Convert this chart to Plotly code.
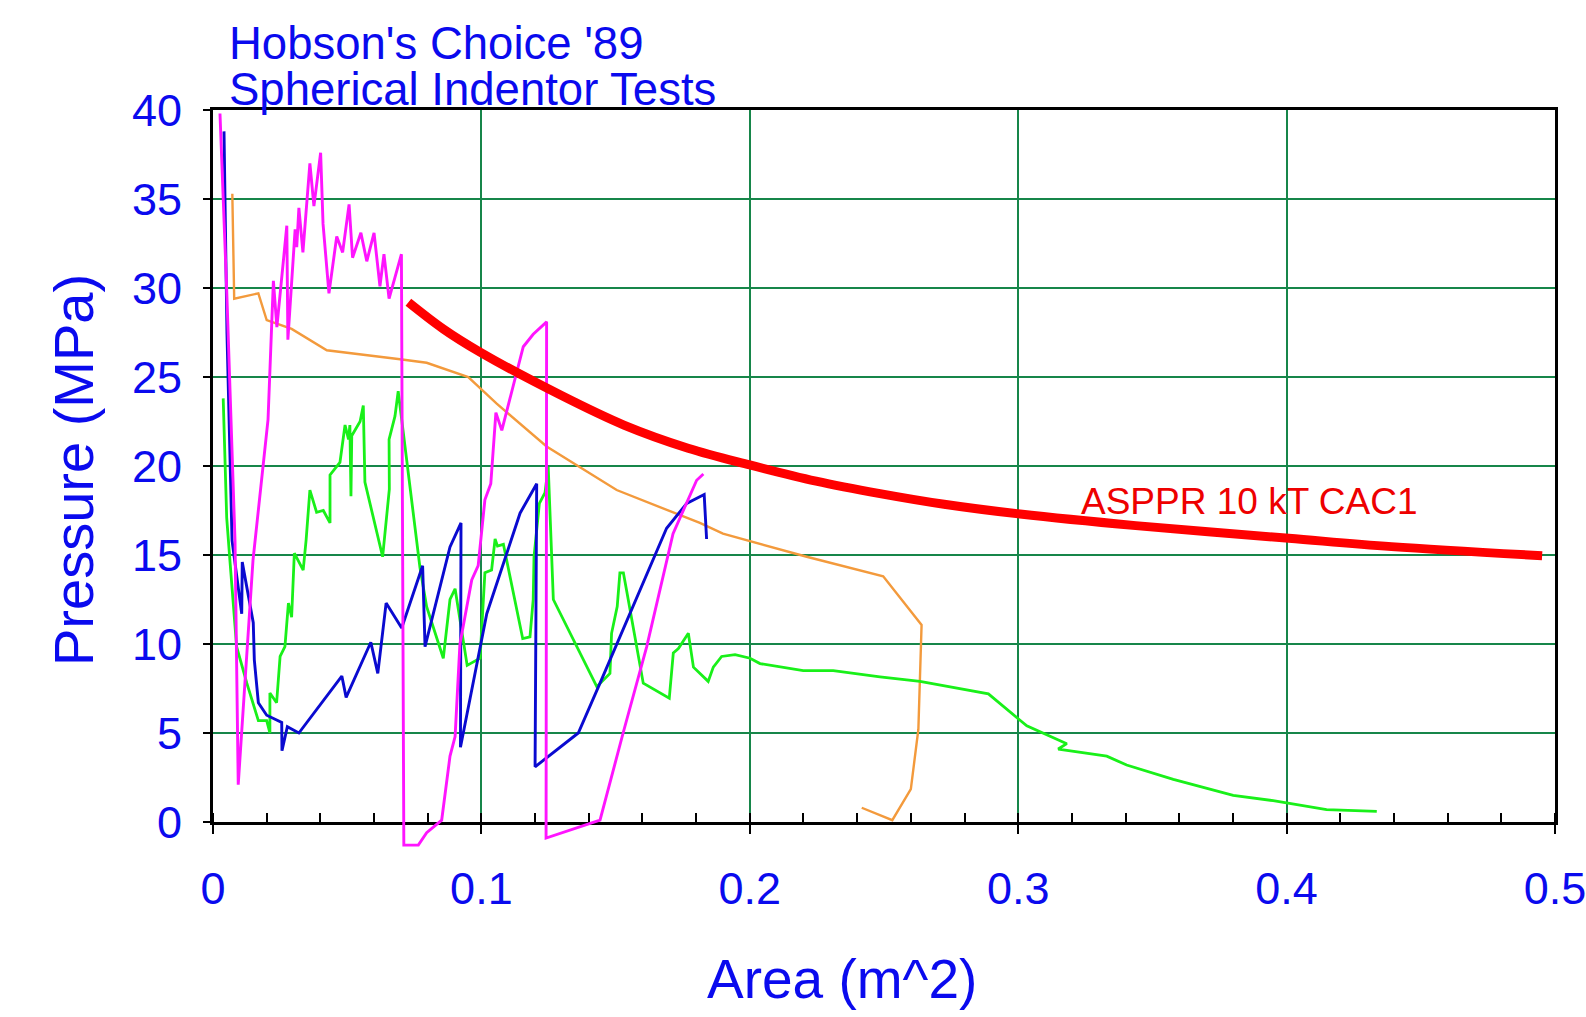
import plotly.graph_objects as go

# ---------------- data ----------------
magenta_x = [0.0026, 0.0051, 0.0082, 0.0094, 0.0149, 0.0205, 0.0225, 0.0238, 0.0275, 0.0279,
             0.0306, 0.0312, 0.0320, 0.0335, 0.0361, 0.0376, 0.0401, 0.0410, 0.0432, 0.0461,
             0.0483, 0.0507, 0.0520, 0.0551, 0.0573, 0.0600, 0.0622, 0.0637, 0.0656, 0.0702,
             0.0711, 0.0765, 0.0796, 0.0852, 0.0883, 0.0902, 0.0920, 0.0964, 0.0988, 0.1013,
             0.1035, 0.1054, 0.1076, 0.1156, 0.1193, 0.1243, 0.1241, 0.1442, 0.1528, 0.1616,
             0.1714, 0.1802, 0.1827]
magenta_y = [39.8, 29.9, 15.8, 2.1, 14.7, 22.6, 30.4, 27.8, 33.5, 27.1,
             33.3, 32.3, 34.5, 32.0, 37.0, 34.6, 37.6, 33.6, 29.7, 32.9,
             32.0, 34.7, 31.7, 33.1, 31.5, 33.1, 30.1, 31.9, 29.4, 31.9,
             -1.3, -1.3, -0.6, 0.1, 3.7, 4.8, 10.0, 13.6, 14.4, 18.1,
             19.0, 23.0, 22.0, 26.7, 27.4, 28.1, -0.9, 0.1, 5.0, 9.85,
             16.2, 19.2, 19.55]

blue_x = [0.0041, 0.0052, 0.0071, 0.0101, 0.0107, 0.0109, 0.0150, 0.0154, 0.0169, 0.0200,
          0.0256, 0.0257, 0.0277, 0.0320, 0.0480, 0.0496, 0.0588, 0.0614, 0.0645, 0.0703,
          0.0781, 0.0790, 0.0883, 0.0924, 0.0922, 0.1020, 0.1144, 0.1206, 0.1200, 0.1361,
          0.1442, 0.1690, 0.1765, 0.1830, 0.1839]
blue_y = [38.8, 27.5, 15.8, 12.6, 11.7, 14.6, 11.2, 9.1, 6.7, 6.0,
          5.6, 4.0, 5.35, 5.0, 8.2, 7.0, 10.1, 8.35, 12.3, 10.9,
          14.4, 9.85, 15.45, 16.8, 4.2, 11.7, 17.35, 19.0, 3.1, 5.0,
          7.8, 16.5, 17.9, 18.4, 15.9]

orange_x = [0.0072, 0.0079, 0.0169, 0.0200, 0.0293, 0.0424, 0.0697, 0.0796, 0.0951, 0.1057,
            0.1243, 0.1442, 0.1504, 0.1814, 0.1900, 0.2212, 0.2497, 0.2640, 0.2628, 0.2600,
            0.2531, 0.2417]
orange_y = [35.3, 29.4, 29.7, 28.2, 27.7, 26.5, 26.0, 25.8, 25.0, 23.5,
            21.1, 19.2, 18.65, 16.8, 16.2, 14.9, 13.8, 11.07, 5.2, 1.85,
            0.1, 0.8]

green_x = [0.0038, 0.0051, 0.0063, 0.0088, 0.0126, 0.0169, 0.0200, 0.0212, 0.0212, 0.0237,
           0.0250, 0.0268, 0.0281, 0.0293, 0.0303, 0.0336, 0.0347, 0.0361, 0.0386, 0.0411,
           0.0436, 0.0436, 0.0473, 0.0492, 0.0505, 0.0510, 0.0514, 0.0517, 0.0548, 0.0560,
           0.0566, 0.0632, 0.0657, 0.0656, 0.0678, 0.0690, 0.0771, 0.0796, 0.0858, 0.0883,
           0.0902, 0.0947, 0.0995, 0.1013, 0.1038, 0.1051, 0.1060, 0.1082, 0.1154, 0.1181,
           0.1193, 0.1196, 0.1216, 0.1237, 0.1249, 0.1268, 0.1430, 0.1479, 0.1485, 0.1506,
           0.1516, 0.1529, 0.1541, 0.1603, 0.1700, 0.1715, 0.1734, 0.1771, 0.1790, 0.1845,
           0.1864, 0.1895, 0.1945, 0.2001, 0.2038, 0.2199, 0.2311, 0.2485, 0.2634, 0.2783,
           0.2889, 0.3000, 0.3032, 0.3181, 0.3149, 0.3330, 0.3404, 0.3578, 0.3702, 0.3801,
           0.3950, 0.4025, 0.4149, 0.4336]
green_y = [23.8, 17.1, 14.7, 9.85, 7.8, 5.7, 5.7, 5.0, 7.25, 6.7,
           9.3, 9.85, 12.3, 11.5, 15.1, 14.15, 15.85, 18.65, 17.4, 17.5,
           16.8, 19.5, 20.2, 22.3, 21.5, 22.3, 18.3, 21.7, 22.5, 23.4,
           19.1, 14.9, 18.7, 21.5, 22.8, 24.2, 14.3, 12.1, 9.2, 12.5,
           13.1, 8.8, 9.2, 14.0, 14.15, 15.9, 15.5, 15.6, 10.3, 10.4,
           12.5, 14.9, 17.9, 18.5, 19.95, 12.5, 7.6, 8.35, 10.6, 12.1,
           14.0, 14.0, 13.0, 7.8, 6.95, 9.5, 9.75, 10.6, 8.7, 7.9,
           8.7, 9.3, 9.4, 9.2, 8.9, 8.5, 8.5, 8.15, 7.9, 7.5,
           7.2, 5.8, 5.4, 4.4, 4.1, 3.7, 3.2, 2.4, 1.9, 1.5,
           1.2, 1.0, 0.7, 0.6]

red_x = [0.0728, 0.0858, 0.0995, 0.1293, 0.1531, 0.1770, 0.2000, 0.2247, 0.2485,
         0.2724, 0.3007, 0.3438, 0.4008, 0.4391, 0.4952]
red_y = [29.2, 27.7, 26.4, 24.0, 22.3, 21.0, 20.06, 19.15, 18.45,
         17.85, 17.3, 16.65, 15.94, 15.47, 14.96]

x_tick_vals = [0, 0.1, 0.2, 0.3, 0.4, 0.5]
x_tick_text = ["0", "0.1", "0.2", "0.3", "0.4", "0.5"]
y_tick_vals = [0, 5, 10, 15, 20, 25, 30, 35, 40]

title_lines = ["Hobson's Choice '89", "Spherical Indentor Tests"]
x_title = "Area (m^2)"
y_title = "Pressure (MPa)"
curve_label = "ASPPR 10 kT CAC1"

# ---------------- layout geometry ----------------
W, H = 1586, 1017
ML, MR, MT, MB = 213, 31, 110, 159
PH = H - MT - MB                 # paper height in px
AX_PX = 712                      # pixels spanned by 0..40
ext = PH - AX_PX                 # extra px below y=0 (for traces dipping below)
d = ext / PH
y2_low = -40.0 * ext / AX_PX

def px_to_paper(px, py):
    return (px - ML) / (W - ML - MR), (MT + PH - py) / PH

TEXT_BLUE = "#0a0aee"
GRID = "#17864a"
FONT = "Liberation Sans, Arial, sans-serif"

fig = go.Figure()

def add(xs, ys, color, width, shape="linear"):
    fig.add_trace(go.Scatter(x=xs, y=ys, mode="lines", xaxis="x2", yaxis="y2",
                             line=dict(color=color, width=width, shape=shape),
                             showlegend=False, hoverinfo="x+y"))

add(orange_x, orange_y, "#f39a3c", 2.4)
add(green_x, green_y, "#19f019", 2.8)
add(blue_x, blue_y, "#0a0ad0", 2.9)
add(magenta_x, magenta_y, "#ff14ff", 2.9)
add(red_x, red_y, "#ff0000", 9, "spline")

annotations = []
for txt, cy in zip(title_lines, [43.5, 89]):
    ax, ay = px_to_paper(227, cy)
    annotations.append(dict(text=txt, xref="paper", yref="paper", x=ax, y=ay,
                            xanchor="left", yanchor="middle", showarrow=False,
                            font=dict(family=FONT, size=45.5, color=TEXT_BLUE)))
ax, ay = px_to_paper(842, 979)
annotations.append(dict(text=x_title, xref="paper", yref="paper", x=ax, y=ay,
                        xanchor="center", yanchor="middle", showarrow=False,
                        font=dict(family=FONT, size=55, color=TEXT_BLUE)))
ax, ay = px_to_paper(73, 470)
annotations.append(dict(text=y_title, xref="paper", yref="paper", x=ax, y=ay,
                        xanchor="center", yanchor="middle", showarrow=False, textangle=-90,
                        font=dict(family=FONT, size=56, color=TEXT_BLUE)))
annotations.append(dict(text=curve_label, xref="x", yref="y", x=0.386, y=18.0,
                        xanchor="center", yanchor="middle", showarrow=False,
                        font=dict(family=FONT, size=37, color="#ee0000")))

fig.update_layout(
    width=W, height=H, autosize=False,
    margin=dict(l=ML, r=MR, t=MT, b=MB, pad=0, autoexpand=False),
    paper_bgcolor="white", plot_bgcolor="rgba(0,0,0,0)",
    showlegend=False,
    xaxis=dict(domain=[0, 1], range=[0, 0.5], anchor="y", automargin=False,
               tickmode="array", tickvals=x_tick_vals, ticktext=x_tick_text,
               ticks="outside", ticklen=9, tickwidth=1.5, tickcolor="black",
               minor=dict(ticks="inside", dtick=0.02, tick0=0, ticklen=9,
                          tickwidth=1.5, tickcolor="black", showgrid=False),
               showgrid=True, gridcolor=GRID, gridwidth=1.5,
               showline=True, linecolor="black", linewidth=3, mirror=True,
               zeroline=False, ticklabelstandoff=16, ticklabeloverflow="allow",
               tickfont=dict(family=FONT, size=45, color=TEXT_BLUE)),
    yaxis=dict(domain=[d, 1], range=[0, 40], anchor="x", automargin=False,
               tickmode="array", tickvals=y_tick_vals,
               ticks="outside", ticklen=7, tickwidth=1.5, tickcolor="black",
               showgrid=True, gridcolor=GRID, gridwidth=1.5,
               showline=True, linecolor="black", linewidth=3, mirror=True,
               zeroline=False, ticklabelstandoff=12, ticklabeloverflow="allow",
               tickfont=dict(family=FONT, size=45, color=TEXT_BLUE)),
    xaxis2=dict(domain=[0, 1], range=[0, 0.5], anchor="y2", visible=False,
                showgrid=False, zeroline=False, automargin=False),
    yaxis2=dict(domain=[0, 1], range=[y2_low, 40], anchor="x2", visible=False,
                showgrid=False, zeroline=False, automargin=False),
    annotations=annotations,
)

fig.write_html("out.html")
